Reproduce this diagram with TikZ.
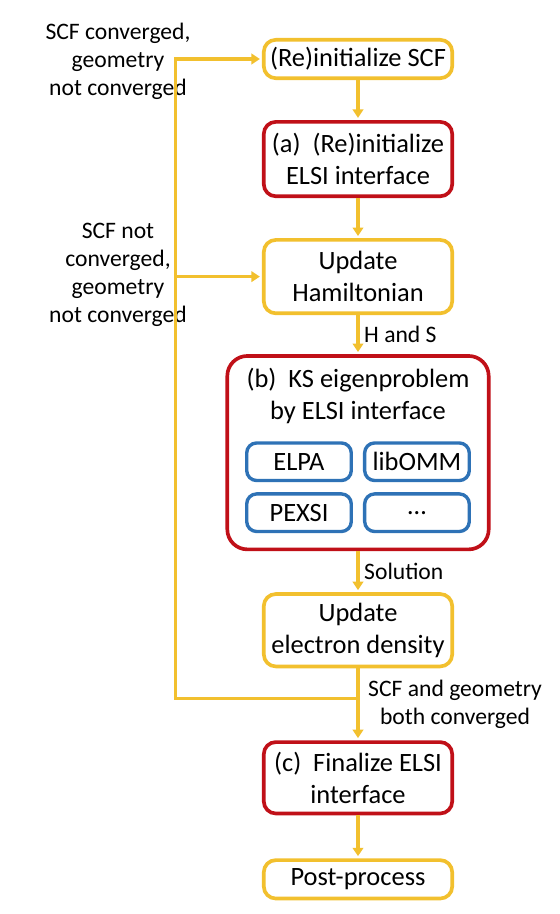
\documentclass[tikz,border=0pt]{standalone}
\usepackage{fontspec}
\setmainfont{Carlito}
\usetikzlibrary{arrows.meta, positioning, calc}
\definecolor{flowYellow}{RGB}{242,192,46}
\definecolor{elsiRed}{RGB}{192,16,24}
\definecolor{solverBlue}{RGB}{46,114,182}

\begin{document}
\begin{tikzpicture}[
        node distance=1cm,
        yellowbox/.style={rectangle, rounded corners=0.3cm, draw=flowYellow, line width=2.6pt, fill=white, minimum width=4.71cm, align=center, inner sep=2pt, font=\fontsize{18.8}{22.5}\selectfont},
        redbox/.style={yellowbox, draw=elsiRed},
        solverbox/.style={rectangle, rounded corners=0.25cm, draw=solverBlue, line width=2.4pt, minimum width=2.615cm, minimum height=0.94cm, inner sep=2pt, font=\fontsize{18.8}{22.5}\selectfont},
        note/.style={align=center, text=black, font=\fontsize{16.8}{20}\selectfont},
        arrow/.style={-{Triangle[length=6pt,width=7.5pt]}, line width=2.2pt, flowYellow, shorten >=1.5pt}
    ]
        \useasboundingbox (0,0) rectangle (14,-22.85);

        % Main loop
        \node[yellowbox, minimum height=0.96cm] (init) at (8.95,-1.475) {(Re)initialize SCF};
        \node[redbox, minimum height=1.86cm, below=1cm of init] (elsia) {(a)\ \ (Re)initialize\\ELSI interface};
        \node[yellowbox, minimum height=1.835cm, below=1cm of elsia] (hamil) {Update\\Hamiltonian};
        \node[redbox, minimum width=6.535cm, minimum height=4.835cm, rounded corners=0.5cm, below=0.975cm of hamil] (ks) {};
        \node[font=\fontsize{18.8}{22.5}\selectfont, align=center] (kstitle) at ([yshift=-1.05cm]ks.north) {(b)\ \ KS eigenproblem\\by ELSI interface};
        \node[yellowbox, minimum height=1.81cm, below=1.025cm of ks] (density) {Update\\electron density};
        \node[redbox, minimum height=1.785cm, below=1.8cm of density] (finalc) {(c)\ \ Finalize ELSI\\interface};
        \node[yellowbox, minimum height=0.96cm, below=1.075cm of finalc] (post) {Post-process};

        % Solvers inside (b)
        \node[solverbox] (elpa) at ([xshift=-1.475cm, yshift=-2.69cm]ks.north) {ELPA};
        \node[solverbox, right=0.25cm of elpa] (libomm) {libOMM};
        \node[solverbox, below=0.25cm of elpa] (pexsi) {PEXSI};
        \node[solverbox, right=0.25cm of pexsi] (more) {\dots};

        % Conditions on the left
        \node[note] (geolbl) at (2.95,-1.525) {SCF converged,\\geometry\\not converged};
        \node[note] (scflbl) at (2.95,-6.875) {SCF not\\converged,\\geometry\\not converged};

        \coordinate[below=0.75cm of density.south] (join);
        \coordinate (railtop) at ([xshift=-2.17cm]init.west);
        \coordinate (railmid) at (railtop |- hamil.west);

        \draw[arrow] (init) -- (elsia);
        \draw[arrow] (elsia) -- (hamil);
        \draw[arrow] (hamil) -- node[note, right] {H and S} (ks);
        \draw[arrow] (ks) -- node[note, right] {Solution} (density);
        \draw[arrow] (density) -- node[note, right, xshift=0.1cm] {SCF and geometry\\both converged} (finalc);
        \draw[arrow] (finalc) -- (post);
        \draw[arrow] (join) -| (railtop) -- (init);
        \draw[arrow] (railmid) -- (hamil);
    \end{tikzpicture}
\end{document}
